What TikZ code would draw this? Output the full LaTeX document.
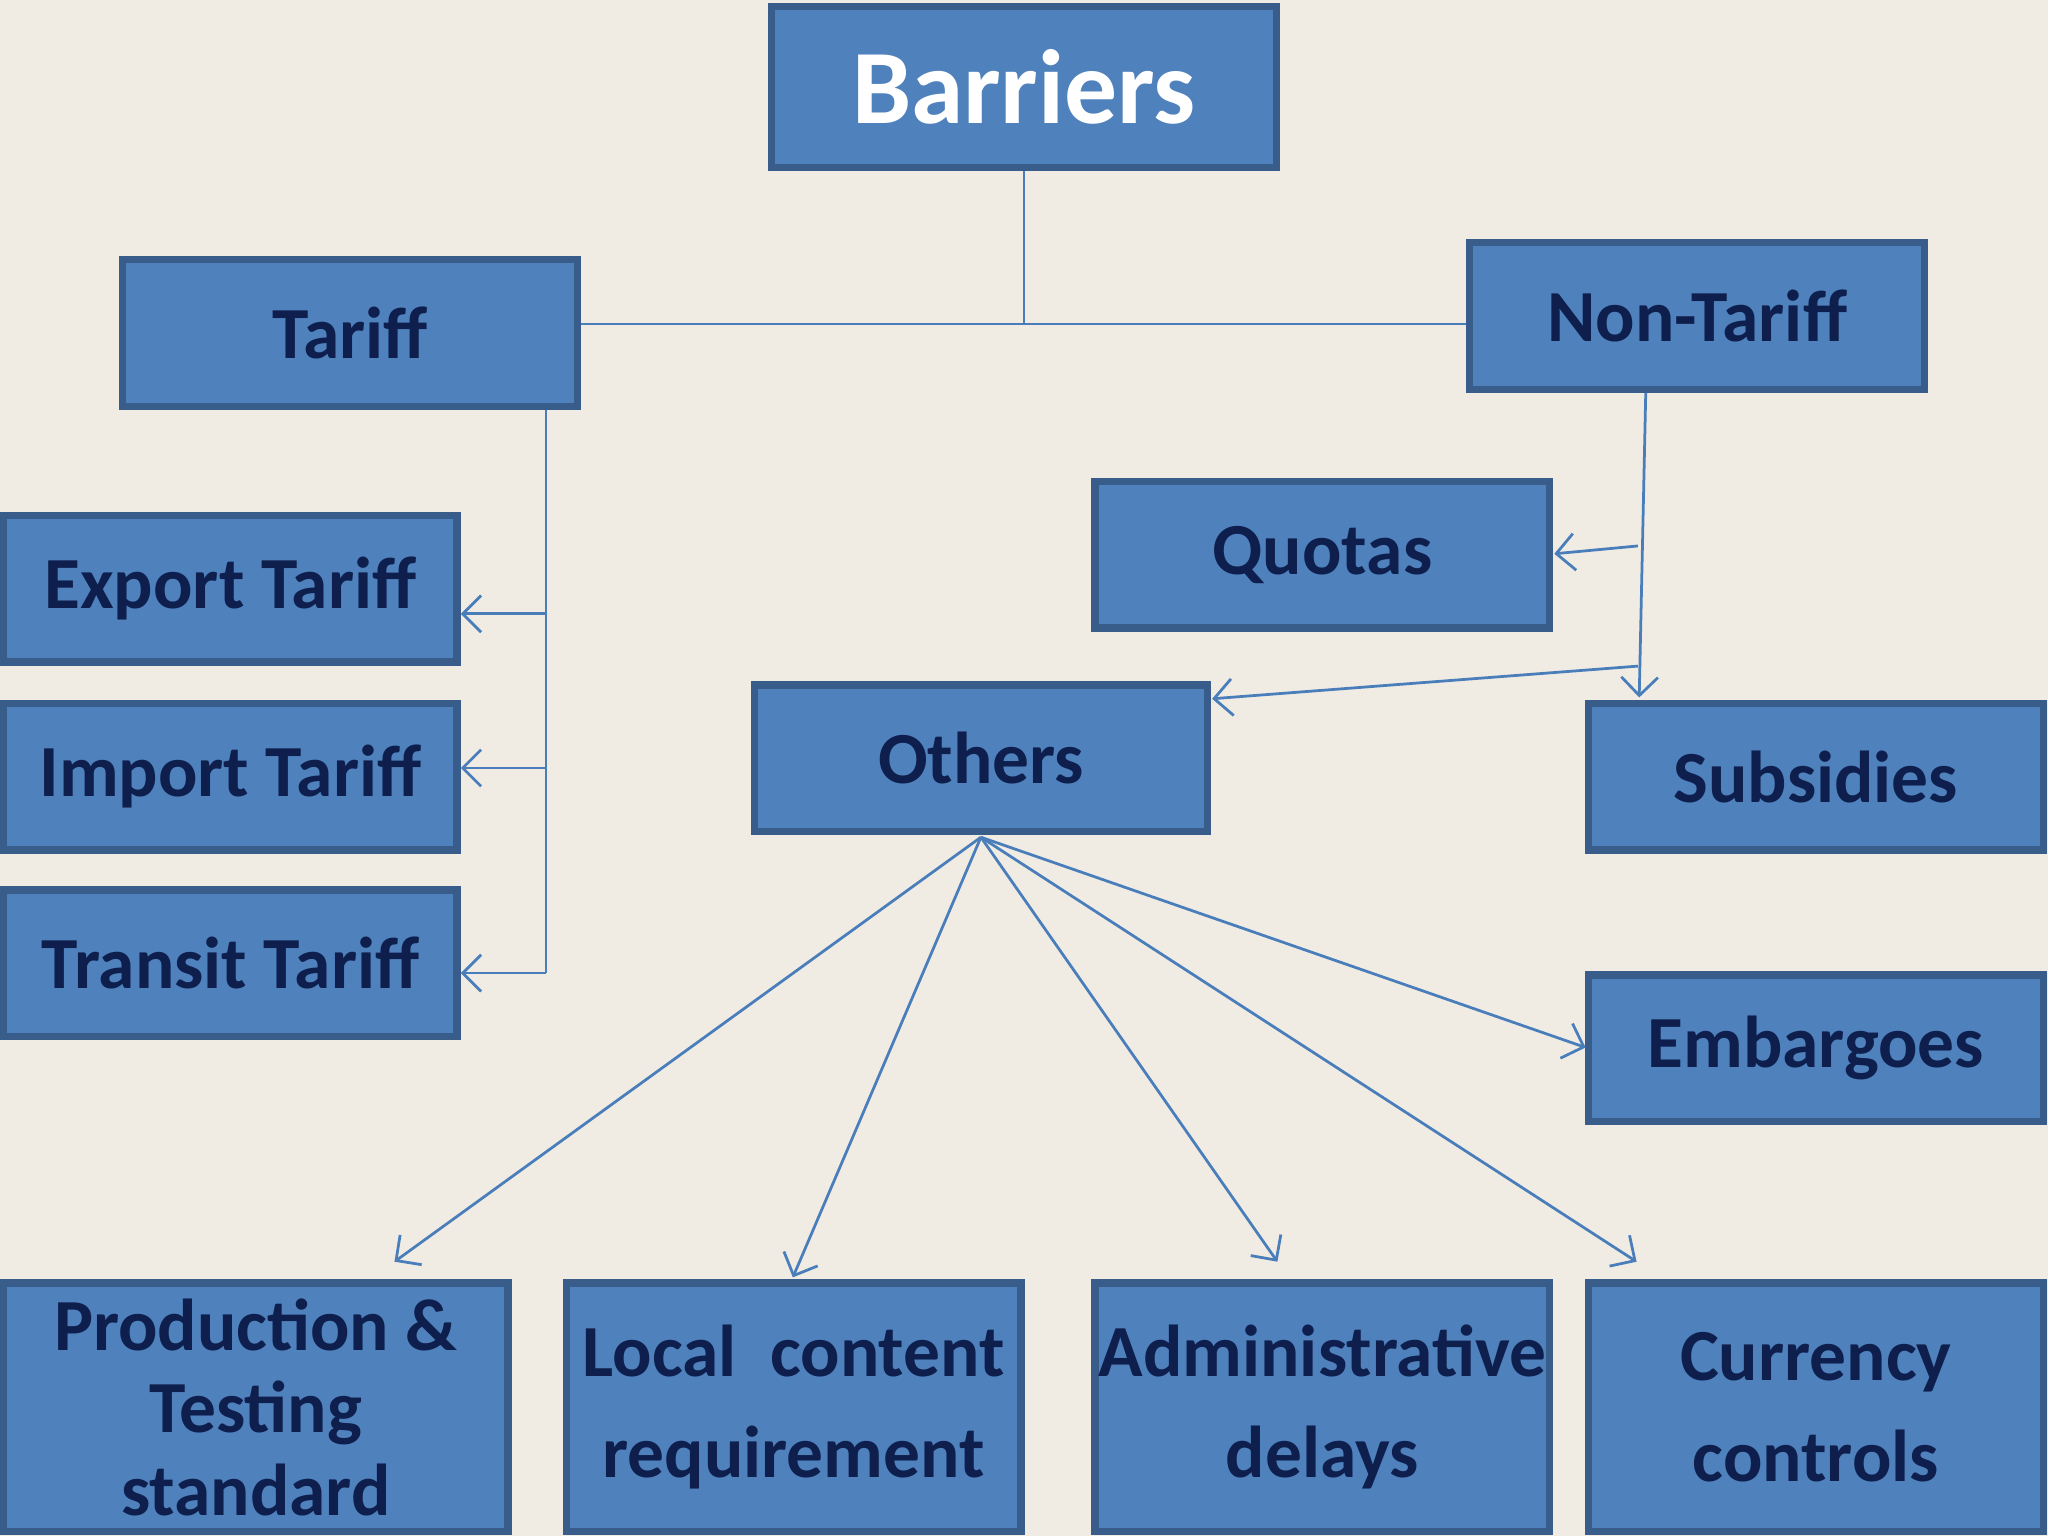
\documentclass[tikz,border=0pt]{standalone}
\usepackage{fontspec}
\setmainfont{Carlito}
\usetikzlibrary{arrows.meta}
\definecolor{bg}{HTML}{F0ECE4}
\definecolor{boxfill}{HTML}{4F81BD}
\definecolor{boxline}{HTML}{385D8A}
\definecolor{txt}{HTML}{0E1F4D}
\definecolor{conn}{HTML}{4A7EBB}
\tikzset{
 box/.style={draw=boxline,line width=1.6pt,fill=boxfill,text=txt,font=\bfseries\fontsize{16}{20}\selectfont,align=center,inner sep=0pt},
 conline/.style={draw=conn,line width=0.6pt},
 arr/.style={conline,-{Straight Barb[length=4pt,width=8pt]}}
}
\newcommand{\bx}[6]{\node[box,minimum width=#4*0.01cm-1.6pt,minimum height=#5*0.01cm-1.6pt] (#1) at ({(#2+#4/2)*0.01},{-(#3+#5/2)*0.01}) {#6};}
\begin{document}
\begin{tikzpicture}
\fill[bg] (0,0) rectangle (15.68,-11.76);
\useasboundingbox (0,0) rectangle (15.68,-11.76);
\node[box,minimum width=3.92cm-1.6pt,minimum height=1.29cm-1.6pt,text=white,font=\bfseries\fontsize{23}{28}\selectfont] (bar) at (7.84,-0.665) {Barriers};
\bx{tar}{91}{196}{354}{118}{Tariff}
\bx{non}{1123}{183}{354}{118}{Non-Tariff}
\bx{quo}{836}{366}{354}{118}{Quotas}
\bx{exp}{0}{392}{353}{118}{Export Tariff}
\bx{imp}{0}{536}{353}{118}{Import Tariff}
\bx{tra}{0}{679}{353}{118}{Transit Tariff}
\bx{oth}{575}{522}{353}{118}{Others}
\bx{sub}{1214}{536}{354}{118}{Subsidies}
\bx{emb}{1214}{744}{354}{118}{Embargoes}
\bx{pro}{0}{980}{392}{196}{Production \&\\[-2pt]Testing\\[-2pt]standard}
\bx{loc}{431}{980}{354}{196}{Local\ \ content\\[2pt]requirement}
\bx{adm}{836}{980}{354}{196}{Administrative\\[2pt]delays}
\bx{cur}{1214}{980}{354}{196}{Currency\\[2pt]controls}
% connectors
\coordinate (j) at (7.84,-2.48);
\draw[conline] (bar.south) -- (j);
\draw[conline] (tar.east |- j) -- (non.west |- j);
\coordinate (t1) at (4.18,-3.14);
\coordinate (t2) at (4.18,-7.45);
\draw[conline] (t1) -- (t2);
\draw[arr] (4.18,-4.70) -- (exp.east |- 0,-4.70);
\draw[arr] (4.18,-5.88) -- (imp.east |- 0,-5.88);
\draw[arr] (t2) -- (tra.east |- t2);
\coordinate (n1) at (12.60,-3.01);
\coordinate (nq) at (12.54,-4.18);
\coordinate (no) at (12.54,-5.10);
\draw[arr] (n1) -- (12.55,-5.34);
\draw[arr] (nq) -- (11.90,-4.24);
\draw[arr] (no) -- (9.28,-5.35);
\coordinate (o) at (7.51,-6.41);
\draw[arr] (o) -- (3.02,-9.66);
\draw[arr] (o) -- (6.07,-9.78);
\draw[arr] (o) -- (9.78,-9.66);
\draw[arr] (o) -- (12.53,-9.66);
\draw[arr] (o) -- (12.14,-8.02);
\end{tikzpicture}
\end{document}
